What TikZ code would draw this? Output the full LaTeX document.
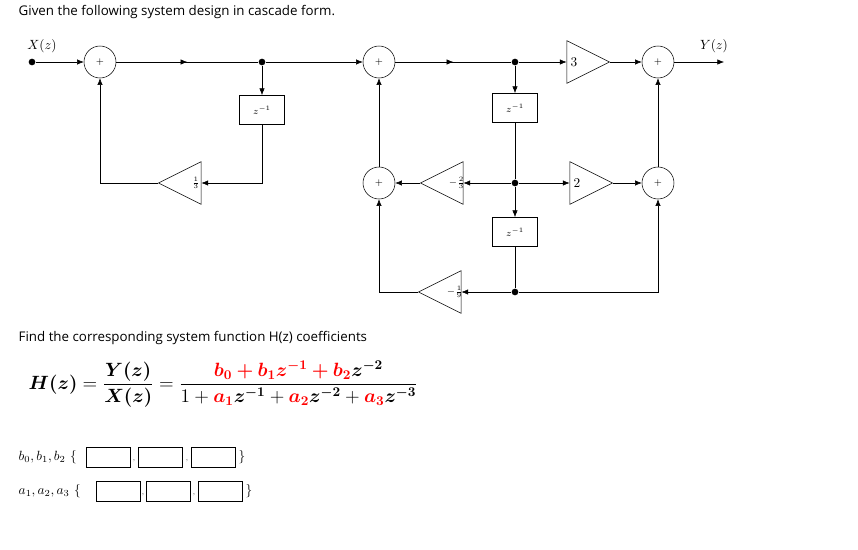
\documentclass[tikz,border=0pt]{standalone}
\usepackage{amsmath}
\usepackage{amssymb}
\usepackage{bm}
\usepackage{fontspec}
\newfontfamily\osans{Open Sans}
\usetikzlibrary{arrows.meta}
\usetikzlibrary{shapes.geometric}
\usetikzlibrary{decorations.markings}
\tikzset{
    adder/.style={circle, draw, minimum size=24pt, inner sep=0pt, font=\scriptsize},
    delay/.style={rectangle, draw, minimum width=34pt, minimum height=22pt, inner sep=0pt, font=\scriptsize},
    gainl/.style={isosceles triangle, draw, isosceles triangle stretches, shape border rotate=180,
        minimum width=32pt, minimum height=32pt, inner sep=0pt},
    gainr/.style={gainl, shape border rotate=0},
    glab/.style={inner sep=0pt, font=\scriptsize},
    dot/.style={circle, fill, minimum size=5pt, inner sep=0pt},
    sig/.style={-{Latex[length=5pt,width=4pt]}},
    mid/.style={postaction={decorate}, decoration={markings,
        mark=at position 0.5 with {\arrow{Latex[length=5pt,width=4pt]}}}},
    ansbox/.style={rectangle, draw, minimum width=33pt, minimum height=15pt, inner sep=0pt},
}
\begin{document}
\begin{tikzpicture}[x=0.75pt, y=-0.75pt]
    \useasboundingbox (0,0) rectangle (858,550);
    \node [anchor=west, font=\osans] (title) at (14,12) {Given the following system design in cascade form.};
    % first section
    \node [dot] (xin) at (32,62) {};
    \node (xlab) at (42,46) {$X(z)$};
    \node [adder] (s1) at (100,62) {+};
    \node [dot] (t1) at (262,62) {};
    \node [delay] (d1) at (262,110) {$z^{-1}$};
    \node [gainl] (g1) at (188,183) {};
    \node [glab] (g1l) at (196,183) {$\frac{1}{3}$};
    \draw [sig] (xin) -- (s1);
    \draw [mid] (s1) -- (t1);
    \draw [sig] (t1) -- (d1);
    \draw [sig] (d1) |- (g1);
    \draw [sig] (g1) -| (s1);
    % second section
    \node [adder] (s2) at (379,62) {+};
    \node [dot] (t2) at (515,62) {};
    \node [gainr] (g3) at (580,62) {};
    \node (g3l) at (574,62) {3};
    \node [adder] (s4) at (658,62) {+};
    \coordinate (yout) at (724,62);
    \node (ylab) at (714,46) {$Y(z)$};
    \node [delay] (d2) at (515,108) {$z^{-1}$};
    \node [dot] (t3) at (515,183) {};
    \node [gainl] (g2) at (450,183) {};
    \node [glab] (g2l) at (457,183) {$-\frac{2}{3}$};
    \node [adder] (s3) at (379,183) {+};
    \node [gainr] (g4) at (583,183) {};
    \node (g4l) at (577,183) {2};
    \node [adder] (s5) at (658,183) {+};
    \node [delay] (d3) at (515,232) {$z^{-1}$};
    \node [dot] (t4) at (515,292) {};
    \node [gainl] (g5) at (448,292) {};
    \node [glab] (g5l) at (455,292) {$-\frac{1}{9}$};
    \draw [sig] (t1) -- (s2);
    \draw [mid] (s2) -- (t2);
    \draw [sig] (t2) -- (g3);
    \draw [sig] (g3) -- (s4);
    \draw [sig] (s4) -- (yout);
    \draw [sig] (t2) -- (d2);
    \draw (d2) -- (t3);
    \draw [sig] (t3) -- (g2);
    \draw [sig] (g2) -- (s3);
    \draw [sig] (t3) -- (g4);
    \draw [sig] (g4) -- (s5);
    \draw [sig] (s3) -- (s2);
    \draw [sig] (s5) -- (s4);
    \draw [sig] (t3) -- (d3);
    \draw (d3) -- (t4);
    \draw [sig] (t4) -- (g5);
    \draw [sig] (g5) -| (s3);
    \draw [sig] (t4) -| (s5);
    % question
    \node [anchor=west, font=\osans] (ask) at (14,338) {Find the corresponding system function H(z) coefficients};
    \node [anchor=west, font=\Large] (hz) at (24,384) {$\bm{H(z)} = \dfrac{\bm{Y(z)}}{\bm{X(z)}} =
        \dfrac{\color{red}\bm{b_0 + b_1} \bm{z^{-1}} \bm{+} \color{red}\bm{b_2}\color{black}\bm{z^{-2}}}
        {1 + \color{red}\bm{a_1}\color{black}\bm{z^{-1}} + \color{red}\bm{a_2}\color{black}\bm{z^{-2}} + \color{red}\bm{a_3}\color{black}\bm{z^{-3}}}$};
    \node [anchor=west] (bl) at (14,457) {$b_0, b_1, b_2$ \{};
    \node [ansbox] (b0) at (108,457) {};
    \node [ansbox] (b1) at (160,457) {};
    \node [ansbox] (b2) at (213,457) {};
    \node [font=\tiny] at (134,461) {,};
    \node [font=\tiny] at (187,461) {,};
    \node at (242,457) {\}};
    \node [anchor=west] (al) at (14,491) {$a_1, a_2, a_3$ \{};
    \node [ansbox] (a1) at (118,491) {};
    \node [ansbox] (a2) at (168,491) {};
    \node [ansbox] (a3) at (220,491) {};
    \node [font=\tiny] at (143,495) {,};
    \node [font=\tiny] at (194,495) {,};
    \node at (249,491) {\}};
\end{tikzpicture}
\end{document}
